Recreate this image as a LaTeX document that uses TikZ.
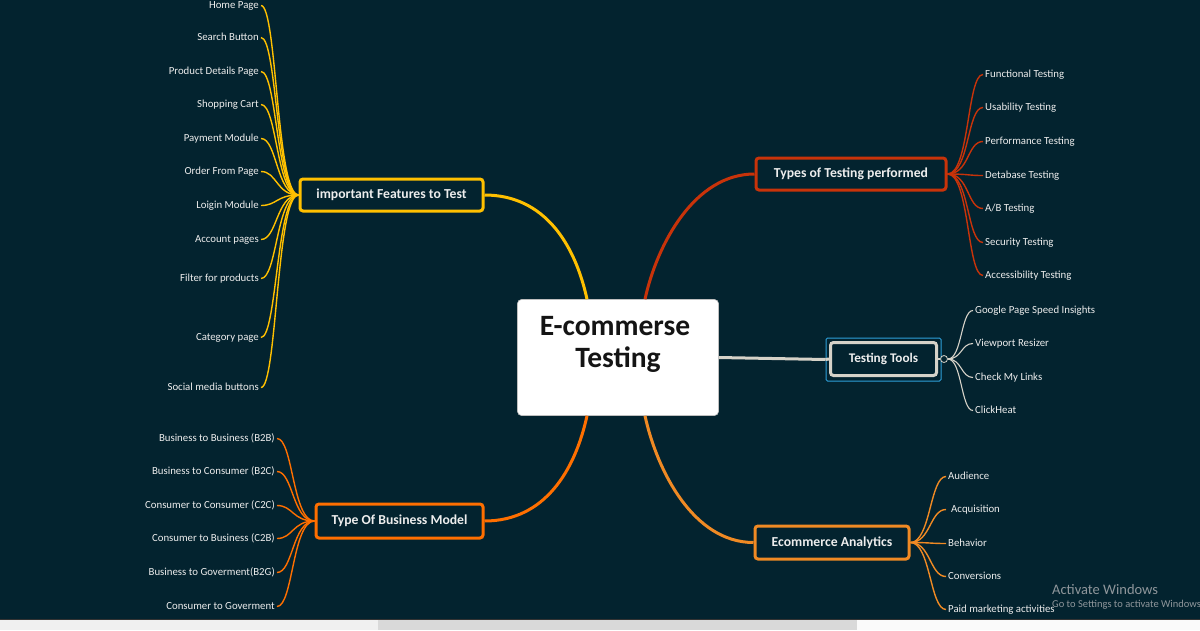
\documentclass[tikz,border=0pt]{standalone}
\usepackage{fontspec}
\setmainfont{Carlito}
\usetikzlibrary{calc}
\definecolor{bg}{HTML}{03232F}
\definecolor{cyel}{HTML}{FFC000}
\definecolor{cred}{HTML}{C8330A}
\definecolor{corg}{HTML}{FF6F00}
\definecolor{corl}{HTML}{F08A24}
\definecolor{cgry}{HTML}{D6D2C8}
\definecolor{cblu}{HTML}{2EA0DB}
\definecolor{ctxt}{HTML}{EDEDED}
\definecolor{cwin}{HTML}{8F969B}
\tikzset{
  hubbox/.style={draw=#1, line width=3pt, rounded corners=3pt, fill=bg, text=ctxt,
    font=\fontsize{13.7}{15}\selectfont\bfseries, inner sep=0pt},
  leafL/.style={anchor=east, text=ctxt, font=\fontsize{10.8}{12}\selectfont,
    inner xsep=2pt, inner ysep=0pt, text height=7.5pt, text depth=2.5pt, yshift=-1.5pt},
  leafR/.style={anchor=west, text=ctxt, font=\fontsize{10.8}{12}\selectfont,
    inner xsep=2pt, inner ysep=0pt, text height=7.5pt, text depth=2.5pt, yshift=-1.5pt},
  mainlink/.style={draw=#1, line width=3pt},
  leaflink/.style={draw=#1, line width=1.4pt},
}
\begin{document}
\begin{tikzpicture}[x=1pt,y=-1pt]
\useasboundingbox (0,0) rectangle (1200,630);
\clip (0,0) rectangle (1200,630);
\fill[bg] (0,0) rectangle (1200,630);
% bottom scroll strip
\fill[black!80] (0,618.5) rectangle (1200,619.5);
\fill[white!94!black] (0,619.5) rectangle (1200,630);
\fill[white!85!black] (378,619.5) rectangle (857,630);
\fill[white!98!black] (857,619.5) rectangle (1200,630);

% root
\node[draw=black!25, line width=0.6pt, fill=white, rounded corners=4pt,
  minimum width=201pt, minimum height=116pt, inner sep=0pt] (root) at (618,357.5) {};
\node[align=center, font=\fontsize{29.5}{31.5}\selectfont\bfseries, text=black!92, inner sep=0pt]
  (roottext) at (615,344.5) {E-commerse\\\hspace*{6pt}Testing};

% hubs
\node[hubbox=cyel, minimum width=183pt, minimum height=32pt] (fhub) at (391.5,195) {important Features to Test};
\node[hubbox=cred, minimum width=190pt, minimum height=32pt] (thub) at (851,174) {Types of Testing performed};
\node[hubbox=corg, minimum width=167pt, minimum height=34pt] (bhub) at (399.5,521) {Type Of Business Model};
\node[hubbox=corl, minimum width=154pt, minimum height=33pt] (ahub) at (832,542.5) {Ecommerce Analytics};
\node[draw=cblu, line width=1pt, rounded corners=1.5pt, minimum width=115pt, minimum height=43pt, inner sep=0pt] (toolsel) at (883.5,359.5) {};
\node[hubbox=cgry, minimum width=106pt, minimum height=33pt, font=\fontsize{13.2}{15}\selectfont\bfseries] (tools) at (883.5,359) {Testing Tools};
\node[circle, draw=cgry, line width=0.8pt, fill=bg, minimum size=7pt, inner sep=0pt] (tdot) at (944,359) {};

% main links
\draw[mainlink=cyel] ([xshift=-31pt]root.north) .. controls +(-12,-55) and +(60,0) .. (fhub.east);
\draw[mainlink=cred] ([xshift=27pt]root.north) .. controls +(12,-55) and +(-60,0) .. (thub.west);
\draw[mainlink=corg] ([xshift=-31pt]root.south) .. controls +(-12,55) and +(60,0) .. (bhub.east);
\draw[mainlink=corl] ([xshift=27pt]root.south) .. controls +(12,55) and +(-60,0) .. (ahub.west);
\draw[mainlink=cgry] (root.east) -- (toolsel.west);
\draw[mainlink=cgry] (toolsel.west) -- (tools.west);
\draw[leaflink=cgry] (tools.east) -- (tdot.west);

% feature leaves
\foreach \n/\y/\t in {f1/4/Home Page, f2/36/Search Button, f3/70/Product Details Page,
  f4/103/Shopping Cart, f5/137/Payment Module, f6/170/Order From Page, f7/204/Loigin Module,
  f8/238/Account pages, f9/277/Filter for products, f10/336/Category page, f11/386/Social media buttons}{
  \node[leafL] (\n) at (261,\y) {\t};
  \draw[leaflink=cyel] (fhub.west) .. controls +(-22,0) and +(16,0) .. (\n.east);
}
% business leaves
\foreach \n/\y/\t in {b1/437/Business to Business (B2B), b2/470/Business to Consumer (B2C),
  b3/504/Consumer to Consumer (C2C), b4/537/Consumer to Business (C2B),
  b5/571/Business to Goverment(B2G), b6/605/Consumer to Goverment}{
  \node[leafL] (\n) at (277,\y) {\t};
  \draw[leaflink=corg] (bhub.west) .. controls +(-22,0) and +(16,0) .. (\n.east);
}
% types leaves
\foreach \n/\y/\t in {t1/73/Functional Testing, t2/106/Usability Testing, t3/140/Performance Testing,
  t4/174/Detabase Testing, t5/207/{A/B Testing}, t6/241/Security Testing, t7/274/Accessibility Testing}{
  \node[leafR] (\n) at (983,\y) {\t};
  \draw[leaflink=cred] (thub.east) .. controls +(22,0) and +(-16,0) .. (\n.west);
}
% tools leaves
\foreach \n/\y/\t in {g1/309/Google Page Speed Insights, g2/342/Viewport Resizer,
  g3/376/Check My Links, g4/409/ClickHeat}{
  \node[leafR] (\n) at (973,\y) {\t};
  \draw[leaflink=cgry, line width=1.1pt] (tdot.east) .. controls +(14,0) and +(-12,0) .. (\n.west);
}
% analytics leaves
\foreach \n/\y/\t in {a1/475/Audience, a2/508/\hspace*{3pt}Acquisition, a3/542/Behavior,
  a4/575/Conversions, a5/608/Paid marketing activities}{
  \node[leafR] (\n) at (946,\y) {\t};
  \draw[leaflink=corl] (ahub.east) .. controls +(20,0) and +(-16,0) .. (\n.west);
}

% watermark
\node[anchor=west, text=cwin, font=\fontsize{14.5}{16}\selectfont, inner sep=0pt] (wm1) at (1052,590) {Activate Windows};
\node[anchor=west, text=cwin, font=\fontsize{10.5}{12}\selectfont, inner sep=0pt] (wm2) at (1052,605) {Go to Settings to activate Windows.};
\end{tikzpicture}
\end{document}
